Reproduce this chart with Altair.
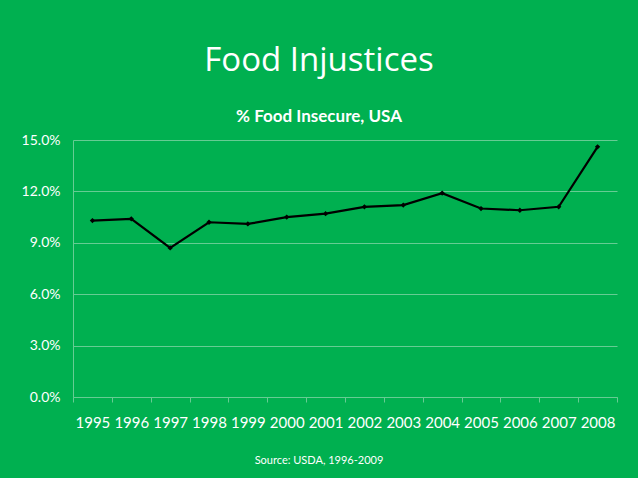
import altair as alt
import pandas as pd

years = ["1995", "1996", "1997", "1998", "1999", "2000", "2001", "2002",
         "2003", "2004", "2005", "2006", "2007", "2008"]
insecure_pct = [10.3, 10.4, 8.7, 10.2, 10.1, 10.5, 10.7, 11.1, 11.2, 11.9,
                11.0, 10.9, 11.1, 14.6]
y_ticks = [0, 3, 6, 9, 12, 15]

title_text = "Food Injustices"
subtitle_text = "% Food Insecure, USA"
source_text = "Source: USDA, 1996-2009"

df = pd.DataFrame({"year": years, "pct": insecure_pct})

FONT = "Lato"
BG = "#00B050"
GRID = "#66cc93"

L, T, W, H = 73, 140, 544, 257

base = alt.Chart(df).encode(
    x=alt.X("year:O", sort=years,
            scale=alt.Scale(paddingInner=0, paddingOuter=0),
            axis=alt.Axis(title=None, labelAngle=0, labelColor="white",
                          labelFont=FONT, labelFontSize=15, labelPadding=13,
                          domainColor=GRID, tickColor=GRID,
                          tickSize=5, grid=False, tickBand="extent")),
    y=alt.Y("pct:Q", scale=alt.Scale(domain=[0, 15], nice=False),
            axis=alt.Axis(title=None, values=y_ticks, labelColor="white",
                          labelFont=FONT, labelFontSize=14, labelPadding=13,
                          labelExpr="format(datum.value, '.1f') + '%'",
                          domain=True, domainColor=GRID, ticks=False,
                          grid=True, gridColor=GRID, gridWidth=1)),
)

line = base.mark_line(color="black", strokeWidth=2.2)
pts = base.mark_point(shape="diamond", filled=True, color="black", size=28, opacity=1)

def txt(s, x, y, size, weight="normal", font=FONT):
    return alt.Chart(pd.DataFrame({"t": [s]})).mark_text(
        color="white", font=font, fontSize=size, fontWeight=weight,
        align="center", baseline="alphabetic").encode(
        x=alt.value(x), y=alt.value(y), text="t:N")

title = txt(title_text, 319 - L, 71 - T, 33, font="Open Sans")
subtitle = txt(subtitle_text, 319 - L, 122 - T, 17, "bold")
source = txt(source_text, 319 - L, 464 - T, 11)

chart = alt.layer(line, pts, title, subtitle, source).properties(
    width=W, height=H,
    autosize=alt.AutoSizeParams(type="none"),
    padding={"left": L, "top": T, "right": 638 - L - W, "bottom": 478 - T - H},
    background=BG,
).configure_view(stroke=None)

chart.save("out.html", embed_options={"renderer": "svg", "actions": False})
